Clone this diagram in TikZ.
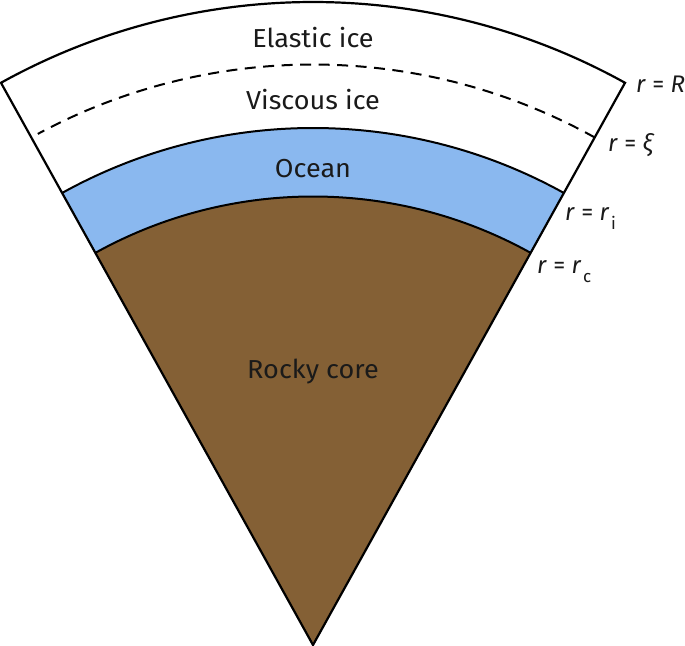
\documentclass[tikz,border=0pt]{standalone}
\usepackage{fontspec}
\setmainfont{Fira Sans}
\newfontfamily\layerfont[FakeStretch=1.04]{Fira Sans}
\definecolor{oceanblue}{HTML}{8AB8EF}
\definecolor{corebrown}{HTML}{846035}
\definecolor{inkline}{HTML}{000000}
\definecolor{inktext}{HTML}{1A1A1A}
\tikzset{
  px/.style={x=1pt,y=1pt},
  rim/.style={draw=inkline,line width=2.2pt,line join=miter},
  arcline/.style={draw=inkline,line width=2pt},
  layer/.style={text=inktext,font=\layerfont\fontsize{26}{28}\selectfont,inner sep=0pt},
  radius label/.style={text=inktext,font=\fontsize{24}{28}\selectfont,inner sep=0pt,anchor=base west},
}
\newcommand{\rr}{\textit{r}}
\newcommand{\subx}[1]{\kern1.5pt\raisebox{-9pt}{\fontsize{17}{17}\selectfont #1}}
\begin{document}
\begin{tikzpicture}[px]
\useasboundingbox (0,0) rectangle (685,645);
\coordinate (apex) at (313,0);
\def\lo{60.97}
\def\hi{119.03}
\fill[oceanblue] (apex) ++(\lo:517) arc[start angle=\lo,end angle=\hi,radius=517] -- (apex) -- cycle;
\fill[corebrown] (apex) ++(\lo:448.5) arc[start angle=\lo,end angle=\hi,radius=448.5] -- (apex) -- cycle;
\draw[arcline] (apex) ++(\lo:517) arc[start angle=\lo,end angle=\hi,radius=517];
\draw[arcline] (apex) ++(\lo:448.5) arc[start angle=\lo,end angle=\hi,radius=448.5];
\draw[draw=inkline,line width=2pt,dash pattern=on 11pt off 7.5pt,line cap=butt] (apex) ++(\lo:580.5) arc[start angle=\lo,end angle=118.3,radius=580.5];
\draw[rim] (apex) -- ++(\lo:643) arc[start angle=\lo,end angle=\hi,radius=643] -- cycle;
\node[layer] (elastic) at (313,607) {Elastic ice};
\node[layer] (viscous) at (313,545) {Viscous ice};
\node[layer] (ocean) at (313,476.5) {Ocean};
\node[layer] (core) at (313,273) {Rocky core};
\node[radius label] (lR) at (636,552.5) {\rr{} = \textit{R}};
\node[radius label] (lxi) at (608,493.3) {\rr{} = \textit{ξ}};
\node[radius label] (lri) at (565,424.3) {\rr{} = \rr\subx{i}};
\node[radius label] (lrc) at (537,371.5) {\rr{} = \rr\subx{c}};
\end{tikzpicture}
\end{document}
